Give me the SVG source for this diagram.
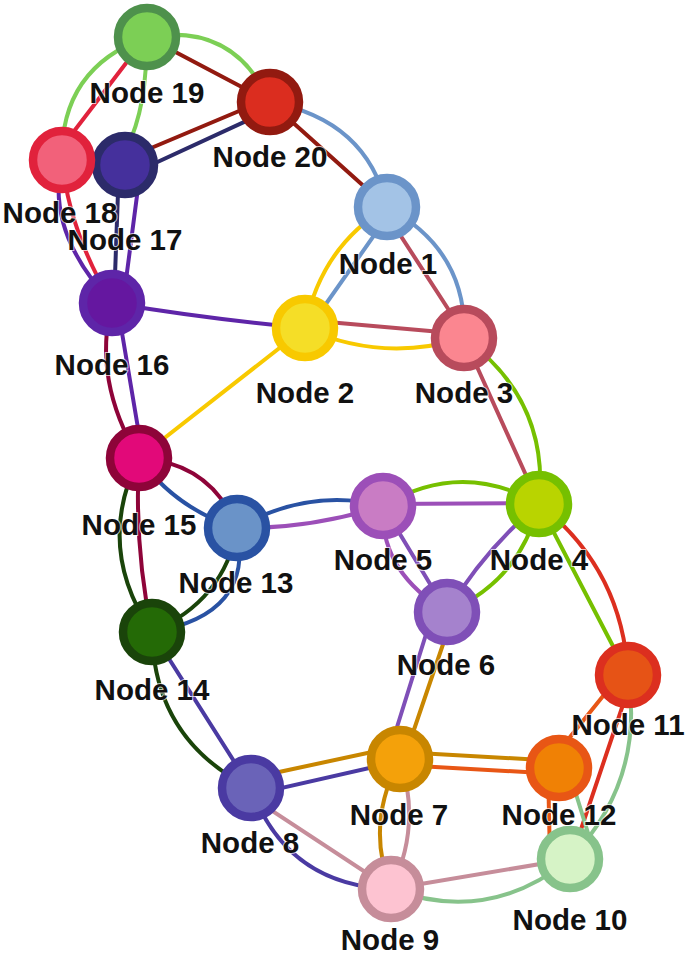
<svg xmlns="http://www.w3.org/2000/svg" width="685" height="956" viewBox="0 0 685 956">
<style>
.e{fill:none;stroke-width:4;stroke-linecap:round}
.n circle{stroke-width:8.5}
.n text{font-family:"Liberation Sans",Arial,sans-serif;font-weight:bold;font-size:29.5px;fill:#111;text-anchor:middle;stroke:#fff;stroke-width:2;stroke-opacity:0.7;paint-order:stroke}
.c1{stroke:#6b94c9}.c2{stroke:#f8c900}.c3{stroke:#b84b5c}.c4{stroke:#76c000}.c5{stroke:#9c4fb8}
.c6{stroke:#7f4fb7}.c7{stroke:#c88600}.c8{stroke:#4a3aa2}.c9{stroke:#c68d9a}.c10{stroke:#87c38b}
.c11{stroke:#dc2f1f}.c12{stroke:#e85615}.c13{stroke:#2952a3}.c14{stroke:#1a440a}.c15{stroke:#8e0439}
.c16{stroke:#5e25a8}.c17{stroke:#2c2b6a}.c18{stroke:#e1223c}.c19{stroke:#7ccf55}.c20{stroke:#921a10}
</style>
<rect width="685" height="956" fill="#fff"/>
<g id="connectors">
<path class="e c19" d="M147,37 Q234,22 270,102"/>
<path class="e c20" d="M147,37 L270,102"/>
<path class="e c19" d="M147,37 Q60,68 62,160"/>
<path class="e c18" d="M146,37 L52,160"/>
<path class="e c19" d="M146,40 Q148,105 126,150"/>
<path class="e c20" d="M270,98 L125,159"/>
<path class="e c17" d="M270,110 L125,177"/>
<path class="e c1" d="M270,102 Q367,120 387,207"/>
<path class="e c20" d="M270,102 L387,207"/>
<path class="e c16" d="M62,160 Q45,232 112,303"/>
<path class="e c18" d="M62,160 Q69,231 112,303"/>
<path class="e c17" d="M119,165 L114,303"/>
<path class="e c16" d="M141,165 L123,303"/>
<path class="e c2" d="M387,207 Q320,248 305,328"/>
<path class="e c1" d="M394,207 L309,328"/>
<path class="e c3" d="M382,207 L467,338"/>
<path class="e c1" d="M387,207 Q468,251 464,338"/>
<path class="e c3" d="M305,320 L464,334"/>
<path class="e c2" d="M305,328 Q382,363 464,338"/>
<path class="e c4" d="M464,338 Q550,400 539,504"/>
<path class="e c3" d="M464,338 L539,504"/>
<path class="e c16" d="M112,303 Q208,319 305,328"/>
<path class="e c15" d="M112,303 Q92,380 139,458"/>
<path class="e c16" d="M117,303 L143,458"/>
<path class="e c2" d="M305,328 L139,458"/>
<path class="e c15" d="M139,458 Q212,463 237,528"/>
<path class="e c13" d="M139,458 Q176,509 237,528"/>
<path class="e c14" d="M139,458 Q94.5,547 152,632"/>
<path class="e c15" d="M139,458 Q134,547 152,632"/>
<path class="e c13" d="M237,528 Q310,487 383,506"/>
<path class="e c5" d="M237,528 Q310,529 383,506"/>
<path class="e c14" d="M237,528 Q225,600 152,632"/>
<path class="e c13" d="M237,528 Q255,615 152,632"/>
<path class="e c4" d="M383,506 Q461,459 539,504"/>
<path class="e c5" d="M383,504 L539,503"/>
<path class="e c5" d="M383,506 Q379,571 447,612"/>
<path class="e c6" d="M383,506 L447,612"/>
<path class="e c6" d="M539,504 Q484,550 447,612"/>
<path class="e c4" d="M539,504 Q520,581 447,612"/>
<path class="e c4" d="M539,504 L628,675"/>
<path class="e c11" d="M539,504 Q622.5,569 628,675"/>
<path class="e c6" d="M433,612 L387,759"/>
<path class="e c7" d="M454,612 L404,759"/>
<path class="e c12" d="M620,675 L545,768"/>
<path class="e c11" d="M633,675 L571,859"/>
<path class="e c10" d="M628,675 Q645,781 570,859"/>
<path class="e c12" d="M548,768 L550,859"/>
<path class="e c10" d="M568,768 L596,859"/>
<path class="e c7" d="M400,752 L559,761"/>
<path class="e c12" d="M400,765 L559,774"/>
<path class="e c14" d="M152,632 Q154,740 251,788"/>
<path class="e c8" d="M152,632 L251,788"/>
<path class="e c7" d="M251,778 L400,746"/>
<path class="e c8" d="M251,795 L400,761"/>
<path class="e c8" d="M251,788 Q287,885.5 391,889"/>
<path class="e c9" d="M251,797 L391,889"/>
<path class="e c7" d="M400,759 Q365,824 391,889"/>
<path class="e c9" d="M400,759 Q422,826 391,889"/>
<path class="e c9" d="M391,889 L570,859"/>
<path class="e c10" d="M391,889 Q489,925 570,859"/>
</g>
<g id="node10" class="n"><circle cx="570" cy="859" r="29" fill="#d6f3c6" stroke="#87c38b"/><text x="570" y="930">Node 10</text></g>
<g id="node9" class="n"><circle cx="391" cy="889" r="29" fill="#fdc3d1" stroke="#c68d9a"/><text x="390" y="950">Node 9</text></g>
<g id="node8" class="n"><circle cx="251" cy="788" r="29" fill="#6a63b8" stroke="#4a3aa2"/><text x="250" y="853">Node 8</text></g>
<g id="node12" class="n"><circle cx="559" cy="768" r="29" fill="#f08105" stroke="#e85615"/><text x="559" y="825">Node 12</text></g>
<g id="node7" class="n"><circle cx="400" cy="759" r="29" fill="#f4a10a" stroke="#c88600"/><text x="399" y="825">Node 7</text></g>
<g id="node11" class="n"><circle cx="628" cy="675" r="29" fill="#e65316" stroke="#dc2f1f"/><text x="628" y="735">Node 11</text></g>
<g id="node14" class="n"><circle cx="152" cy="632" r="29" fill="#246a06" stroke="#1a440a"/><text x="152" y="700">Node 14</text></g>
<g id="node6" class="n"><circle cx="447" cy="612" r="29" fill="#a582cd" stroke="#7f4fb7"/><text x="446" y="675">Node 6</text></g>
<g id="node13" class="n"><circle cx="237" cy="528" r="29" fill="#6a93c8" stroke="#2952a3"/><text x="236" y="593">Node 13</text></g>
<g id="node5" class="n"><circle cx="383" cy="506" r="29" fill="#c97cc4" stroke="#9c4fb8"/><text x="383" y="570">Node 5</text></g>
<g id="node4" class="n"><circle cx="539" cy="504" r="29" fill="#b9d400" stroke="#76c000"/><text x="539" y="570">Node 4</text></g>
<g id="node15" class="n"><circle cx="139" cy="458" r="29" fill="#e20979" stroke="#8e0439"/><text x="139" y="535">Node 15</text></g>
<g id="node3" class="n"><circle cx="464" cy="338" r="29" fill="#fb8690" stroke="#b84b5c"/><text x="464" y="403">Node 3</text></g>
<g id="node2" class="n"><circle cx="305" cy="328" r="29" fill="#f5de27" stroke="#f8c900"/><text x="305" y="403">Node 2</text></g>
<g id="node16" class="n"><circle cx="112" cy="303" r="29" fill="#6517a0" stroke="#5e25a8"/><text x="112" y="375">Node 16</text></g>
<g id="node1" class="n"><circle cx="387" cy="207" r="29" fill="#a3c3e6" stroke="#6b94c9"/><text x="388" y="274">Node 1</text></g>
<g id="node17" class="n"><circle cx="125" cy="165" r="29" fill="#45309c" stroke="#2c2b6a"/><text x="125" y="250">Node 17</text></g>
<g id="node18" class="n"><circle cx="62" cy="160" r="29" fill="#f2617a" stroke="#e1223c"/><text x="60" y="223">Node 18</text></g>
<g id="node20" class="n"><circle cx="270" cy="102" r="29" fill="#db2d1f" stroke="#921a10"/><text x="270" y="167">Node 20</text></g>
<g id="node19" class="n"><circle cx="147" cy="37" r="29" fill="#7ccf55" stroke="#4e914c"/><text x="147" y="103">Node 19</text></g>
</svg>
